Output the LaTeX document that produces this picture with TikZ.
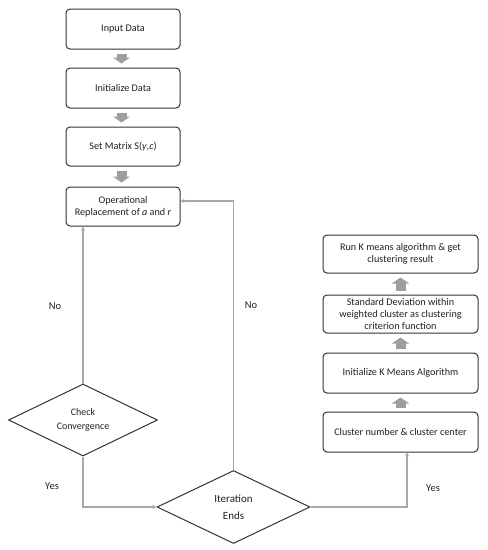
\documentclass[tikz,border=0pt]{standalone}
\usepackage{fontspec}
\setmainfont{Carlito}
\usetikzlibrary{shapes.geometric,arrows.meta,calc}
\definecolor{boxline}{HTML}{333333}
\definecolor{conn}{HTML}{A8A8A8}
\definecolor{fat}{HTML}{9E9E9E}
\definecolor{txt}{HTML}{222222}
\tikzset{
  stepbox/.style={draw=boxline, line width=1pt, rounded corners=4pt, fill=white,
    align=center, text=txt, font=\fontsize{10.2}{11.8}\selectfont, inner sep=1pt},
  decbox/.style={draw=boxline, line width=1pt, diamond, align=center, text=txt,
    font=\fontsize{10}{14}\selectfont, inner sep=0pt, aspect=2},
  connline/.style={draw=conn, line width=1.1pt, -{Stealth[length=4pt,width=4pt]}},
  fatarrow/.style={draw=fat, line width=10pt, -{Triangle[length=6pt,width=17pt]}, shorten >=0pt},
  lab/.style={text=txt, font=\fontsize{10.5}{12}\selectfont}
}
\begin{document}
\begin{tikzpicture}[x=1pt,y=-1pt]
\useasboundingbox (0,0) rectangle (488,550);
% left column
\node[stepbox, minimum width=114pt, minimum height=40pt] (in) at (123,29) {Input Data};
\node[stepbox, minimum width=114pt, minimum height=40pt] (init) at (123,88) {Initialize Data};
\node[stepbox, minimum width=114pt, minimum height=39pt] (set) at (123,146.5) {Set Matrix S(\textit{y},\textit{c})};
\node[stepbox, minimum width=114pt, minimum height=39pt] (op) at (123,206.5) {Operational\\Replacement of \textit{a} and \textit{r}};
% diamonds
\node[decbox, minimum width=149pt, minimum height=72pt] (cc) at (83,420) {Check\\Convergence};
\node[decbox, minimum width=153pt, minimum height=73pt, font=\fontsize{11}{17}\selectfont] (ie) at (233.5,507) {Iteration\\Ends};
% right column
\node[stepbox, minimum width=155pt, minimum height=38pt] (run) at (400.5,254) {Run K means algorithm \& get\\clustering result};
\node[stepbox, minimum width=155pt, minimum height=38pt] (sd) at (400.5,314) {Standard Deviation within\\weighted cluster as clustering\\criterion function};
\node[stepbox, minimum width=155pt, minimum height=40pt] (ik) at (400.5,373) {Initialize K Means Algorithm};
\node[stepbox, minimum width=155pt, minimum height=40pt] (cn) at (400.5,432) {Cluster number \& cluster center};
% fat arrows left column
\draw[fatarrow] ($(in.south)+(-1.5,4)$) -- ($(init.north)+(-1.5,-4)$);
\draw[fatarrow] ($(init.south)+(-1.5,4)$) -- ($(set.north)+(-1.5,-4)$);
\draw[fatarrow] ($(set.south)+(-1.5,4)$) -- ($(op.north)+(-1.5,-4)$);
% fat arrows right column
\draw[fatarrow] ($(cn.north)+(0,-4)$) -- ($(ik.south)+(0,4)$);
\draw[fatarrow] ($(ik.north)+(0,-4)$) -- ($(sd.south)+(0,4)$);
\draw[fatarrow] ($(sd.north)+(0,-4)$) -- ($(run.south)+(0,4)$);
% connectors
\draw[connline] (cc.north) -- (cc.north |- op.south);
\coordinate (opin) at ($(op.east)+(0,-5.5)$);
\draw[connline] (ie.north) |- (opin);
\draw[connline] (cc.south) |- (ie.west);
\coordinate (cnin) at ($(cn.south)+(6.5,0)$);
\draw[connline] (ie.east) -| (cnin);
% labels
\node[lab] (no1) at (55,306) {No};
\node[lab] (no2) at (251,305) {No};
\node[lab] (yes1) at (52,486) {Yes};
\node[lab] (yes2) at (433,488) {Yes};
\end{tikzpicture}
\end{document}
